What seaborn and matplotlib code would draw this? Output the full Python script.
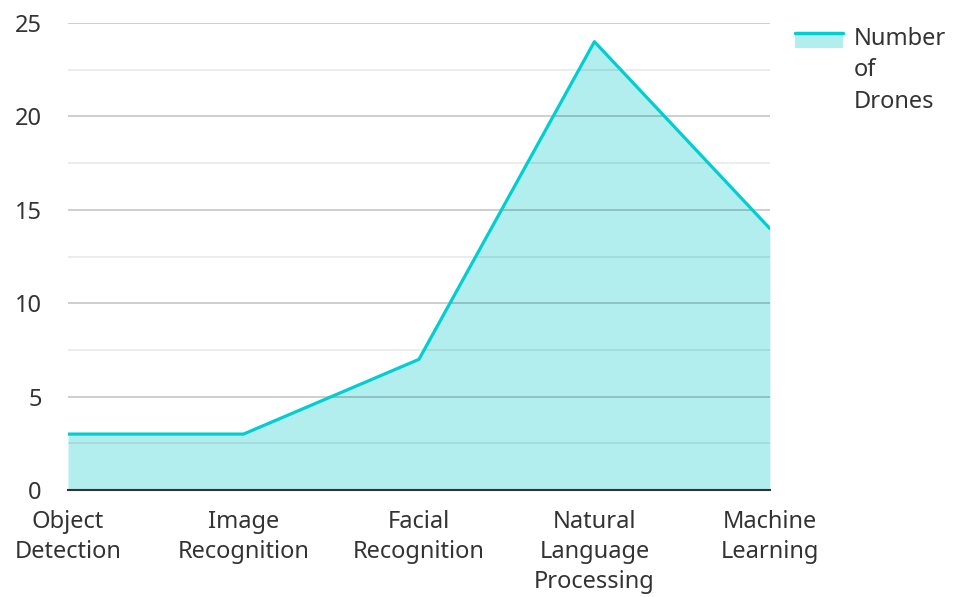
import numpy as np
import pandas as pd
import matplotlib.pyplot as plt
import seaborn as sns
from matplotlib.lines import Line2D
from matplotlib.patches import Patch, Rectangle
from matplotlib.legend_handler import HandlerBase

# data
categories = ['Object\nDetection', 'Image\nRecognition', 'Facial\nRecognition',
              'Natural\nLanguage\nProcessing', 'Machine\nLearning']
drones = [3, 3, 7, 24, 14]

sns.set_style('white')
plt.rcParams['font.family'] = ['Noto Sans', 'DejaVu Sans']

line_color = '#00CED1'
fill_color = '#b2eeee'
fs = 17


class AreaHandler(HandlerBase):
    # filled box with the line along its top edge
    def create_artists(self, legend, orig_handle, xdescent, ydescent,
                       width, height, fontsize, trans):
        y0 = -ydescent - 4.5
        box = Rectangle((-xdescent, y0), width, height,
                        facecolor=fill_color, edgecolor='none', transform=trans)
        top = Line2D([-xdescent, -xdescent + width], [y0 + height, y0 + height],
                     color=line_color, lw=2.5, transform=trans)
        return [box, top]


df = pd.DataFrame({'pos': np.arange(len(categories)), 'drones': drones})

fig = plt.figure(figsize=(9.54, 5.97), dpi=100)
ax = fig.add_axes([0.0713, 0.179, 0.7357, 0.7825])

ax.fill_between(df['pos'], df['drones'], 0, color=fill_color, lw=0, zorder=1)
sns.lineplot(data=df, x='pos', y='drones', color=line_color, lw=2.3, ax=ax, zorder=3)

# gridlines, semi transparent and drawn over the fill
ax.set_ylim(0, 25)
ax.set_xlim(0, len(categories) - 1)
ax.set_yticks(np.arange(0, 26, 5))
ax.set_yticks(np.arange(2.5, 25, 5), minor=True)
ax.grid(axis='y', which='major', color='black', alpha=0.22, lw=1.2, zorder=2)
ax.grid(axis='y', which='minor', color='black', alpha=0.09, lw=1.2, zorder=2)
ax.set_axisbelow(False)

ax.set_xticks(df['pos'])
ax.set_xticklabels(categories, linespacing=1.35)
ax.tick_params(axis='both', which='both', length=0, labelsize=fs, labelcolor='#333333')
ax.tick_params(axis='x', pad=14)
ax.tick_params(axis='y', pad=19)
ax.set_xlabel('')
ax.set_ylabel('')

for side in ['top', 'right', 'left']:
    ax.spines[side].set_visible(False)
ax.spines['bottom'].set_color('#333333')
ax.spines['bottom'].set_linewidth(1.5)
ax.spines['bottom'].set_zorder(4)

handle = Patch(facecolor=fill_color, edgecolor=line_color)
leg = fig.legend([handle], ['Number\nof\nDrones'], loc='upper left',
                 bbox_to_anchor=(0.811, 0.99), frameon=False, fontsize=fs,
                 handlelength=2.05, handleheight=0.6, handletextpad=0.45,
                 handler_map={Patch: AreaHandler()})
for t in leg.get_texts():
    t.set_color('#333333')
    t.set_linespacing(1.4)
# put the key next to the first line of the label
for col in leg._legend_handle_box.get_children():
    for row in col.get_children():
        row.align = 'top'

fig.savefig('out.png', dpi=100)
